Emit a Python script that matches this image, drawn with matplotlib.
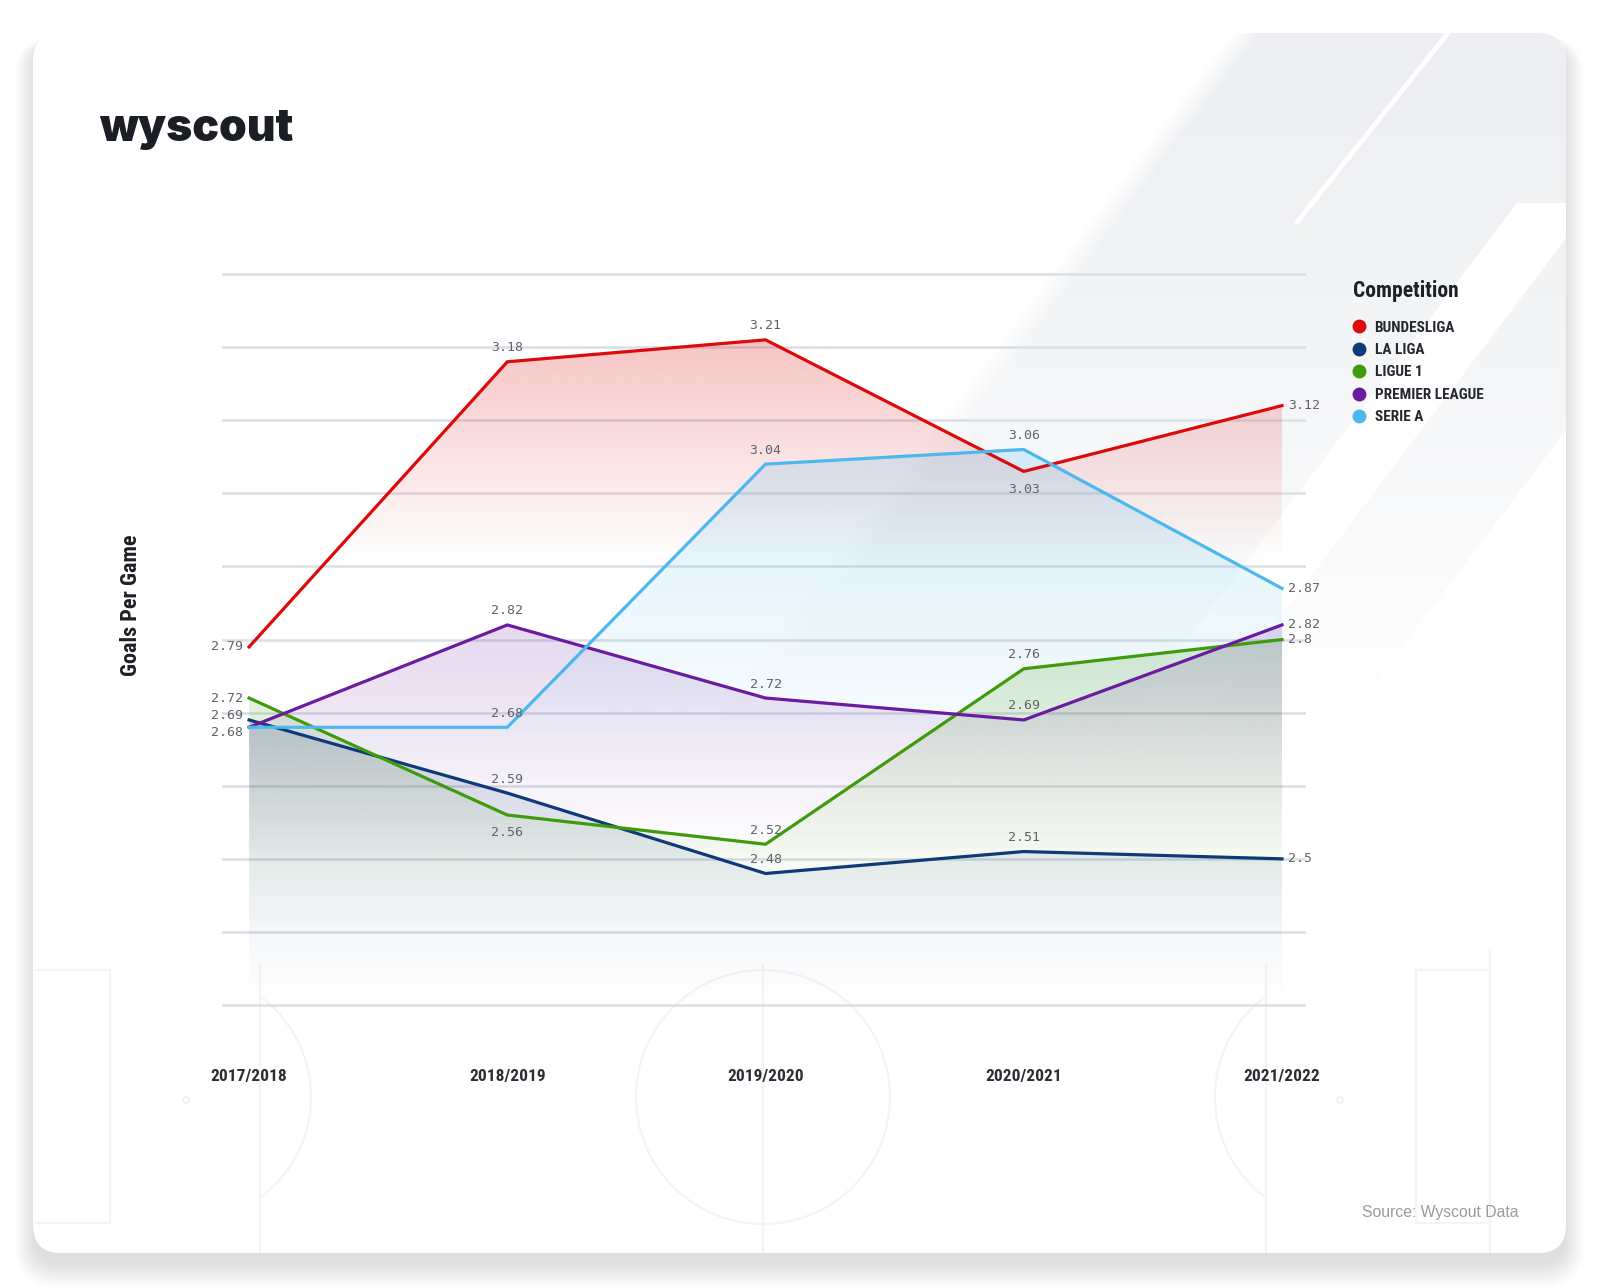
import numpy as np
import matplotlib
matplotlib.use('Agg')
import matplotlib.pyplot as plt
import matplotlib.colors as mcolors
from matplotlib import font_manager as fm
from matplotlib.patches import FancyBboxPatch, Polygon, Circle, Arc
from matplotlib.lines import Line2D

# data
seasons = ['2017/2018', '2018/2019', '2019/2020', '2020/2021', '2021/2022']
competitions = ['BUNDESLIGA', 'LA LIGA', 'LIGUE 1', 'PREMIER LEAGUE', 'SERIE A']
bundesliga = [2.79, 3.18, 3.21, 3.03, 3.12]
la_liga = [2.69, 2.59, 2.48, 2.51, 2.50]
ligue_1 = [2.72, 2.56, 2.52, 2.76, 2.80]
premier_league = [2.68, 2.82, 2.72, 2.69, 2.82]
serie_a = [2.68, 2.68, 3.04, 3.06, 2.87]

# style per series (colour, fill alpha at top, value where fill fades out, label side)
colors = ['#dc0a0a', '#0f3a78', '#3f9b0b', '#6a1b9f', '#4cb8ee']
fill_top = [0.24, 0.17, 0.19, 0.17, 0.20]
fill_fade = [2.90, 2.30, 2.40, 2.50, 2.60]
label_pos = [['l', 'a', 'a', 'b', 'r'],
             ['lu', 'a', 'a', 'a', 'r'],
             ['l', 'b', 'a', 'a', 'r'],
             ['ld', 'a', 'a', 'a', 'r'],
             ['ld', 'a', 'a', 'a', 'r']]

# fonts
entries = fm.fontManager.ttflist


def has_face(name, stretch=None):
    return any(f.name == name and (stretch is None or f.stretch == stretch) for f in entries)


def max_weight(name):
    ws = [f.weight for f in entries if f.name == name and isinstance(f.weight, int)]
    return max(ws) if ws else 0


COND = 'DejaVu Sans'
for c in ['Roboto Condensed', 'Noto Sans', 'Open Sans', 'DejaVu Sans', 'Liberation Sans Narrow']:
    if has_face(c, 'condensed') or (c.endswith(('Condensed', 'Narrow')) and has_face(c)):
        COND = c
        break
HEAVY = max(['Inter', 'Lato', 'Roboto', 'Open Sans', 'Noto Sans', 'DejaVu Sans'], key=max_weight)

cond_bold = dict(family=COND, stretch='condensed', weight='bold')

fig = plt.figure(figsize=(16, 12.88), dpi=100, facecolor='white')

# background card in pixel coordinates
bg = fig.add_axes([0, 0, 1, 1], zorder=0)
bg.axis('off')
for i in range(16):
    sh = FancyBboxPatch((33 - i * 1.2, 42 - i * 0.4), 1533 + i * 2.4, 1222 + i * 2.0,
                        boxstyle='round,pad=0,rounding_size=%d' % (28 + i),
                        fc='black', ec='none', alpha=0.006)
    bg.add_patch(sh)
card = FancyBboxPatch((33, 33), 1533, 1220, boxstyle='round,pad=0,rounding_size=28',
                      fc='white', ec='none', zorder=1)
bg.add_patch(card)

# diagonal grey stripes, top right
H, W = 900, 1600
yy, xx = np.mgrid[0:H, 0:W] + 0.5
u = xx + 0.754 * yy
a = np.clip((u - 1256) / 30, 0, 1) * np.clip(1 - (yy - 130) / 600, 0, 1) * 0.9
img = np.zeros((H, W, 4))
img[..., :3] = mcolors.to_rgb('#eceef1')
img[..., 3] = a
im = bg.imshow(img, extent=(0, W, H, 0), zorder=2, interpolation='bilinear', aspect='auto')
im.set_clip_path(card)
for verts in [[(1517, 203), (1566, 203), (1566, 238), (1067, 900), (991, 900)],
              [(1566, 430), (1566, 900), (1211, 900)]]:
    p = Polygon(verts, closed=True, fc='white', ec='none', zorder=3)
    bg.add_patch(p)
    p.set_clip_path(card)
ln, = bg.plot([1448, 1297], [33, 222], color='white', lw=3.5, zorder=3)
ln.set_clip_path(card)

# faint pitch markings
pcol = '#f3f4f6'
pc = dict(color=pcol, lw=1.6, zorder=2)
pitch = []
pitch += bg.plot([763, 763], [965, 1253], **pc)
pitch += bg.plot([260, 260], [965, 1253], **pc)
pitch += bg.plot([1266, 1266], [965, 1253], **pc)
pitch += bg.plot([1490, 1490], [950, 1253], **pc)
pitch += bg.plot([36, 110, 110, 36], [970, 970, 1223, 1223], **pc)
pitch += bg.plot([1490, 1416, 1416, 1490], [970, 970, 1223, 1223], **pc)
for art in [Circle((763, 1097), 127, fill=False, ec=pcol, lw=1.6, zorder=2),
            Arc((186, 1097), 250, 250, theta1=-54, theta2=54, ec=pcol, lw=1.6, zorder=2),
            Arc((1340, 1097), 250, 250, theta1=126, theta2=234, ec=pcol, lw=1.6, zorder=2),
            Circle((186, 1100), 3, fill=False, ec='#eef0f2', lw=1.2, zorder=2),
            Circle((1340, 1100), 3, fill=False, ec='#eef0f2', lw=1.2, zorder=2)]:
    bg.add_patch(art)
    pitch.append(art)
for art in pitch:
    art.set_clip_path(card)
bg.set_xlim(0, 1600)
bg.set_ylim(1288, 0)

# main chart
ax = fig.add_axes([0.13875, 0.1913, 0.6775, 0.6243], zorder=2)
ax.patch.set_alpha(0)
x = np.arange(len(seasons))
series = [bundesliga, la_liga, ligue_1, premier_league, serie_a]


def grad_fill(vals, color, a0, y0, ybot=2.3):
    top = max(vals)
    verts = [(x[0], ybot)] + list(zip(x, vals)) + [(x[-1], ybot)]
    poly = Polygon(verts, closed=True, fc='none', ec='none')
    ax.add_patch(poly)
    ys = np.linspace(ybot, top, 300)
    g = np.zeros((300, 1, 4))
    g[..., :3] = mcolors.to_rgb(color)
    g[:, 0, 3] = a0 * np.clip((ys - y0) / (top - y0), 0, 1)
    gi = ax.imshow(g, extent=(x[0], x[-1], ybot, top), origin='lower',
                   aspect='auto', interpolation='bilinear', zorder=2)
    gi.set_clip_path(poly)


offsets = {'l': ((-6, 0), 'right'), 'lu': ((-6, 4), 'right'), 'ld': ((-6, -5), 'right'),
           'r': ((6, 0), 'left'), 'a': ((0, 14), 'center'), 'b': ((0, -18), 'center')}

for vals, col, a0, y0 in zip(series, colors, fill_top, fill_fade):
    grad_fill(vals, col, a0, y0)
shown = set()
for vals, col, pos in zip(series, colors, label_pos):
    ax.plot(x, vals, color=col, lw=2.3, zorder=4, solid_joinstyle='miter')
    for xi, v, p in zip(x, vals, pos):
        if (xi, v) in shown:
            continue  # same value at same point is printed once
        shown.add((xi, v))
        off, ha = offsets[p]
        ax.annotate('%g' % v, (xi, v), xytext=off, textcoords='offset pixels',
                    ha=ha, va='center', fontsize=9.5, color='#5f636a',
                    family='DejaVu Sans Mono', zorder=5)

ax.set_xlim(-0.105, 4.093)
ax.set_ylim(2.25, 3.35)
ax.set_yticks(np.arange(2.3, 3.31, 0.1))
ax.yaxis.grid(True, color='#dadee5', lw=1.8, zorder=1)
ax.set_axisbelow(True)
ax.tick_params(axis='y', length=0, labelleft=False)
ax.set_xticks(x, seasons)
ax.tick_params(axis='x', length=0, pad=20)
for t in ax.get_xticklabels():
    t.set_fontproperties(fm.FontProperties(size=12.5, **cond_bold))
    t.set_color('#2b2e34')
for s in ax.spines.values():
    s.set_visible(False)

fig.text(131 / 1600, 1 - 605 / 1288, 'Goals Per Game', rotation=90, ha='center',
         va='center', fontsize=16, color='#1d2026', **cond_bold)

# legend
fig.text(1353 / 1600, 1 - 291 / 1288, 'Competition', ha='left', va='center',
         fontsize=15.5, color='#1d2026', **cond_bold)
handles = [Line2D([0], [0], marker='o', ls='none', color=c, ms=9) for c in colors]
fig.legend(handles, competitions, loc='upper left',
           bbox_to_anchor=(1344 / 1600, 1 - 313 / 1288), frameon=False,
           borderpad=0, handlelength=1.0, handletextpad=0.5, labelspacing=0.55,
           prop=fm.FontProperties(size=11, **cond_bold), labelcolor='#25282e')

# logo and source
logo = fig.text(99 / 1600, 1 - 141 / 1288, 'wyscout', fontsize=37, family=HEAVY,
                weight='black', color='#1b1e24', ha='left', va='baseline')
r = fig.canvas.get_renderer()
wpx = logo.get_window_extent(r).width
logo.set_fontsize(37 * 194 / wpx)
fig.text(1519 / 1600, 1 - 1212 / 1288, 'Source: Wyscout Data', fontsize=11.3,
         family='Liberation Sans', color='#9b9b9b', ha='right', va='center')

fig.savefig('out.png', dpi=100, facecolor='white')
